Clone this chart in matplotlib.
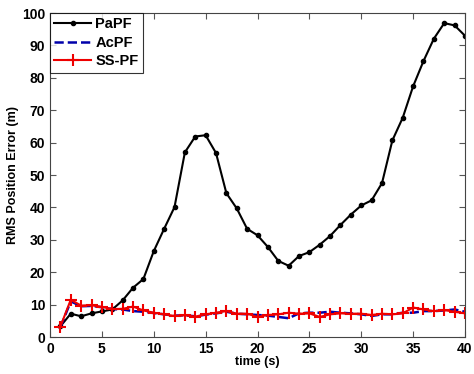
import matplotlib
matplotlib.use("Agg")
import matplotlib.pyplot as plt

t = list(range(1, 41))
papf = [3.3, 7.2, 6.4, 7.3, 7.9, 8.5, 11.3, 15.2, 17.9, 26.5,
        33.4, 40.1, 57.0, 61.9, 62.3, 56.8, 44.4, 39.7, 33.4, 31.4,
        27.8, 23.5, 22.0, 25.0, 26.2, 28.5, 31.2, 34.6, 37.8, 40.6,
        42.2, 47.5, 60.7, 67.7, 77.4, 85.2, 92.1, 96.9, 96.2, 93.0]
acpf = [3.0, 11.0, 9.5, 9.6, 9.2, 8.6, 8.5, 8.0, 7.8, 7.4,
        7.0, 6.6, 6.7, 6.4, 6.9, 7.3, 7.8, 7.2, 7.0, 6.8,
        6.6, 6.2, 5.8, 7.3, 7.5, 7.5, 7.8, 7.5, 7.3, 7.0,
        6.5, 7.0, 7.0, 7.5, 7.5, 8.0, 8.0, 8.2, 8.5, 7.8]
sspf = [3.2, 11.5, 9.7, 9.8, 9.3, 8.6, 8.7, 9.4, 8.2, 7.5,
        7.0, 6.5, 6.7, 6.3, 7.0, 7.5, 8.0, 7.2, 7.2, 6.2,
        6.8, 7.0, 7.5, 7.2, 7.3, 6.2, 7.0, 7.3, 7.2, 7.2,
        6.8, 7.2, 7.0, 7.3, 9.1, 8.5, 8.0, 8.3, 7.8, 7.3]

xticks = [0, 5, 10, 15, 20, 25, 30, 35, 40]
yticks = [0, 10, 20, 30, 40, 50, 60, 70, 80, 90, 100]

plt.rcParams['font.family'] = ['Liberation Sans', 'DejaVu Sans']
plt.rcParams['font.weight'] = 'bold'

fig = plt.figure(figsize=(4.74, 3.74), dpi=100)
ax = fig.add_axes([0.1055, 0.0989, 0.8755, 0.8661])

ax.plot(t, papf, color='black', marker='o', markersize=3, linewidth=1.5, label='PaPF')
ax.plot(t, acpf, color='#0000aa', linestyle='--', linewidth=1.8, label='AcPF')
ax.plot(t, sspf, color='#ee0000', marker='+', markersize=8, markeredgewidth=1.5, linewidth=1.5, label='SS-PF')

ax.set_xlim(0, 40)
ax.set_ylim(0, 100)
ax.set_xticks(xticks)
ax.set_yticks(yticks)
ax.tick_params(direction='in', top=True, right=True, labelsize=10, length=4, color='#555555')
for lab in ax.get_xticklabels() + ax.get_yticklabels():
    lab.set_fontweight('bold')
for s in ax.spines.values():
    s.set_color('#444444')
    s.set_linewidth(0.8)

ax.set_xlabel('time (s)', fontsize=9, fontweight='bold', labelpad=0)
ax.set_ylabel('RMS Position Error (m)', fontsize=9, fontweight='bold', labelpad=2)

leg = ax.legend(loc='upper left', fontsize=10.5, frameon=True, fancybox=False,
                edgecolor='black', borderaxespad=0, handlelength=2.5,
                borderpad=0.3, labelspacing=0.3, handletextpad=0.3)
leg.get_frame().set_linewidth(0.8)
for txt in leg.get_texts():
    txt.set_fontweight('bold')

fig.savefig('out.png', dpi=100)
